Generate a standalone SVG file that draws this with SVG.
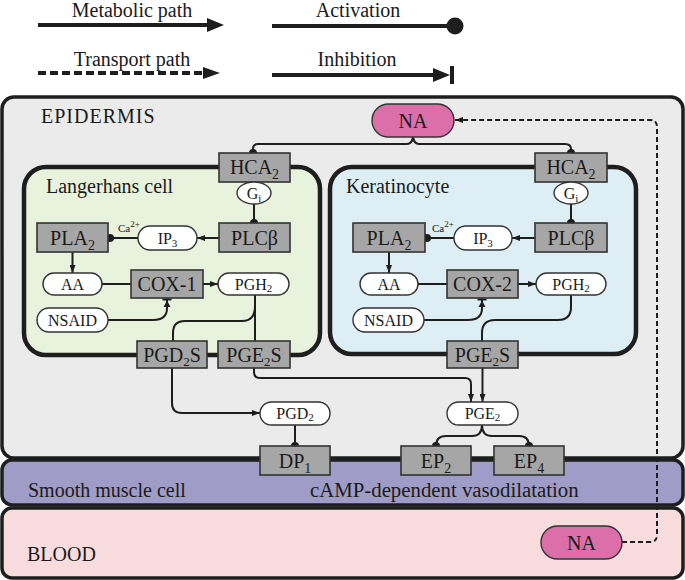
<svg xmlns="http://www.w3.org/2000/svg" width="685" height="580" viewBox="0 0 685 580" font-family="'Liberation Serif', 'DejaVu Serif', serif">
<style>
text{font-family:'Liberation Serif','DejaVu Serif',serif;fill:#1a1a1a}
.lbl{font-size:20px;text-anchor:middle}
.sm{font-size:16px;text-anchor:middle}
.ttl{font-size:20px}
.box{fill:#a6a6a6;stroke:#333;stroke-width:1.6}
.pill{fill:#fff;stroke:#333;stroke-width:1.4}
.na{fill:#dc6fa9;stroke:#333;stroke-width:1.4}
.con{fill:none;stroke:#1e1e1e;stroke-width:2}
.layer{stroke:#1e1e1e;stroke-width:3.5}
.cell{stroke:#1e1e1e;stroke-width:4.5}
</style>
<defs>
<marker id="arr" viewBox="0 0 8 6" refX="8" refY="3" markerWidth="8" markerHeight="6" markerUnits="userSpaceOnUse" orient="auto"><path d="M0,0 L8,3 L0,6 z" fill="#1e1e1e"/></marker>
<marker id="dot" viewBox="-4 -4 8 8" refX="0" refY="0" markerWidth="8" markerHeight="8" markerUnits="userSpaceOnUse" orient="auto"><circle r="4" fill="#1e1e1e"/></marker>
<marker id="inh" viewBox="0 0 10 10" refX="9.5" refY="5" markerWidth="10" markerHeight="10" markerUnits="userSpaceOnUse" orient="auto"><path d="M1,1.5 L7.5,5 L1,8.5 z" fill="#1e1e1e"/><rect x="7.5" y="0.5" width="2" height="9" fill="#1e1e1e"/></marker>
</defs>

<g id="legend">
<text x="132" y="17" class="lbl">Metabolic path</text>
<line x1="38" y1="25" x2="210" y2="25" stroke="#1e1e1e" stroke-width="4"/>
<polygon points="207,18 224,25 207,32" fill="#1e1e1e"/>
<text x="358" y="17" class="lbl">Activation</text>
<line x1="272" y1="26" x2="450" y2="26" stroke="#1e1e1e" stroke-width="4"/>
<circle cx="455" cy="26" r="8.5" fill="#1e1e1e"/>
<text x="132" y="66" class="lbl">Transport path</text>
<line x1="38" y1="73" x2="205" y2="73" stroke="#1e1e1e" stroke-width="4" stroke-dasharray="8,4"/>
<polygon points="203,67 220,73 203,79" fill="#1e1e1e"/>
<text x="357" y="66" class="lbl">Inhibition</text>
<line x1="272" y1="75" x2="440" y2="75" stroke="#1e1e1e" stroke-width="4"/>
<polygon points="433,68 450,75 433,82" fill="#1e1e1e"/>
<rect x="450" y="66" width="4" height="18" fill="#1e1e1e"/>
</g>

<g id="layers">
<rect id="epidermis" class="layer" x="2" y="97" width="681" height="361" rx="12" fill="#ebebeb"/>
<rect id="smooth-muscle" class="layer" x="2" y="460" width="681" height="45" rx="10" fill="#a09cc8"/>
<rect id="blood" class="layer" x="2" y="508" width="681" height="70" rx="10" fill="#f9dcdd"/>
<text x="41" y="123" class="ttl" letter-spacing="1">EPIDERMIS</text>
<text x="28" y="497" class="ttl">Smooth muscle cell</text>
<text x="310" y="497" style="font-size:20.8px">cAMP-dependent vasodilatation</text>
<text x="27" y="561" class="ttl">BLOOD</text>
</g>

<g id="cells">
<rect id="langerhans" class="cell" x="24" y="167" width="296" height="188" rx="22" fill="#e8f2dc"/>
<text x="46" y="193" class="ttl">Langerhans cell</text>
<rect id="keratinocyte" class="cell" x="330" y="167" width="306" height="187" rx="22" fill="#ddeef5"/>
<text x="346" y="193" class="ttl">Keratinocyte</text>
</g>

<g id="connectors">
<path class="con" d="M253,153 V149 Q253,144 258,144 H407 Q412,144 413,137 Q414,144 419,144 H565 Q571,144 571,149 V153" marker-start="url(#dot)" marker-end="url(#dot)"/>
<path class="con" d="M254,204 V223" marker-end="url(#dot)"/>
<path class="con" d="M571,204 V223" marker-end="url(#dot)"/>
<path class="con" d="M219,238 H197" marker-end="url(#arr)"/>
<path class="con" d="M535,238 H512" marker-end="url(#arr)"/>
<path class="con" d="M138,238 H110" marker-end="url(#dot)"/>
<path class="con" d="M454,238 H427" marker-end="url(#dot)"/>
<path class="con" d="M72.5,252 V273" marker-end="url(#arr)"/>
<path class="con" d="M389,252 V273" marker-end="url(#arr)"/>
<path class="con" d="M102,284 H131"/>
<path class="con" d="M418,284 H447"/>
<path class="con" d="M203,284 H218" marker-end="url(#arr)"/>
<path class="con" d="M518,284 H536" marker-end="url(#arr)"/>
<path class="con" d="M108,320 H153 Q167,320 167,308 V298.5" marker-end="url(#inh)"/>
<path class="con" d="M424,320 H468 Q482,320 482,308 V298.5" marker-end="url(#inh)"/>
<path class="con" d="M255,295 V341"/>
<path class="con" d="M255,306 Q255,321 242,321 H185 Q173,321 173,333 V341"/>
<path class="con" d="M571,295 V307 Q571,320 558,320 H495 Q482,320 482,333 V341"/>
<path class="con" d="M172,368 V403 Q172,413 182,413 H260" marker-end="url(#arr)"/>
<path class="con" d="M254,368 V372 Q254,378 260,378 H465 Q471,378 471,384 V402" marker-end="url(#arr)"/>
<path class="con" d="M482.5,368 V402" marker-end="url(#arr)"/>
<path class="con" d="M295,425 V446" marker-end="url(#dot)"/>
<path class="con" d="M482,425 Q482,436 472,436 H446 Q436,436 436,446" marker-end="url(#dot)"/>
<path class="con" d="M482,425 Q482,436 492,436 H519 Q529,436 529,446" marker-end="url(#dot)"/>
<path class="con" d="M622,542 H650 Q657,542 657,535 V127 Q657,120 650,120 H455" stroke-width="1.8" stroke-dasharray="5,3" marker-end="url(#arr)"/>
</g>

<g id="na-top"><rect class="na" x="372" y="104" width="82" height="33" rx="16.5"/><text x="413" y="128" class="lbl">NA</text></g>
<g id="hca2-l"><rect class="box" x="219" y="153" width="71" height="29"/><text x="254.5" y="174" class="lbl">HCA<tspan dy="5" font-size="14">2</tspan></text></g>
<g id="hca2-r"><rect class="box" x="535" y="153" width="72" height="29"/><text x="571" y="174" class="lbl">HCA<tspan dy="5" font-size="14">2</tspan></text></g>
<g id="gi-l"><ellipse class="pill" cx="254" cy="193" rx="17" ry="11"/><text x="254" y="198.5" class="sm">G<tspan dy="3" font-size="11">i</tspan></text></g>
<g id="gi-r"><ellipse class="pill" cx="571" cy="193" rx="17" ry="11"/><text x="571" y="198.5" class="sm">G<tspan dy="3" font-size="11">i</tspan></text></g>
<g id="plcb-l"><rect class="box" x="219" y="223" width="71" height="29"/><text x="254.5" y="244.5" class="lbl">PLCβ</text></g>
<g id="plcb-r"><rect class="box" x="535" y="223" width="72" height="29"/><text x="571" y="244.5" class="lbl">PLCβ</text></g>
<g id="ip3-l"><rect class="pill" x="138" y="226" width="59" height="24" rx="12"/><text x="167.5" y="243.5" class="sm">IP<tspan dy="3" font-size="11">3</tspan></text></g>
<g id="ip3-r"><rect class="pill" x="454" y="226" width="58" height="24" rx="12"/><text x="483" y="243.5" class="sm">IP<tspan dy="3" font-size="11">3</tspan></text></g>
<text x="118" y="232" font-size="11">Ca<tspan dy="-5" font-size="9">2+</tspan></text>
<text x="432" y="232" font-size="11">Ca<tspan dy="-5" font-size="9">2+</tspan></text>
<g id="pla2-l"><rect class="box" x="37" y="223" width="71" height="29"/><text x="72.5" y="244.5" class="lbl">PLA<tspan dy="5" font-size="14">2</tspan></text></g>
<g id="pla2-r"><rect class="box" x="353" y="223" width="72" height="29"/><text x="389" y="244.5" class="lbl">PLA<tspan dy="5" font-size="14">2</tspan></text></g>
<g id="aa-l"><rect class="pill" x="43" y="273" width="59" height="22" rx="11"/><text x="72.5" y="289.5" class="sm">AA</text></g>
<g id="aa-r"><rect class="pill" x="360" y="273" width="58" height="22" rx="11"/><text x="389" y="289.5" class="sm">AA</text></g>
<g id="cox1"><rect class="box" x="131" y="270" width="72" height="28"/><text x="167" y="291" class="lbl">COX-1</text></g>
<g id="cox2"><rect class="box" x="447" y="270" width="71" height="28"/><text x="482.5" y="291" class="lbl">COX-2</text></g>
<g id="pgh2-l"><rect class="pill" x="218" y="273" width="71" height="22" rx="11"/><text x="253.5" y="289.5" class="sm">PGH<tspan dy="2" font-size="11">2</tspan></text></g>
<g id="pgh2-r"><rect class="pill" x="536" y="273" width="70" height="22" rx="11"/><text x="571" y="289.5" class="sm">PGH<tspan dy="2" font-size="11">2</tspan></text></g>
<g id="nsaid-l"><rect class="pill" x="37" y="308" width="71" height="24" rx="12"/><text x="72.5" y="326" class="sm">NSAID</text></g>
<g id="nsaid-r"><rect class="pill" x="353" y="308" width="71" height="24" rx="12"/><text x="388.5" y="326" class="sm">NSAID</text></g>
<g id="pgd2s"><rect class="box" x="137" y="341" width="70" height="27"/><text x="172" y="361.5" class="lbl">PGD<tspan dy="4" font-size="13">2</tspan><tspan dy="-4">S</tspan></text></g>
<g id="pge2s-l"><rect class="box" x="218" y="341" width="72" height="27"/><text x="254" y="361.5" class="lbl">PGE<tspan dy="4" font-size="13">2</tspan><tspan dy="-4">S</tspan></text></g>
<g id="pge2s-r"><rect class="box" x="447" y="341" width="71" height="27"/><text x="482.5" y="361.5" class="lbl">PGE<tspan dy="4" font-size="13">2</tspan><tspan dy="-4">S</tspan></text></g>
<g id="pgd2"><rect class="pill" x="260" y="402" width="70" height="23" rx="11.5"/><text x="295" y="419" class="sm">PGD<tspan dy="2" font-size="11">2</tspan></text></g>
<g id="pge2"><rect class="pill" x="447" y="402" width="71" height="23" rx="11.5"/><text x="482.5" y="419" class="sm">PGE<tspan dy="2" font-size="11">2</tspan></text></g>
<g id="dp1"><rect class="box" x="260" y="446" width="70" height="29"/><text x="295" y="467.5" class="lbl">DP<tspan dy="5" font-size="14">1</tspan></text></g>
<g id="ep2"><rect class="box" x="401" y="446" width="70" height="29"/><text x="436" y="467.5" class="lbl">EP<tspan dy="5" font-size="14">2</tspan></text></g>
<g id="ep4"><rect class="box" x="494" y="446" width="70" height="29"/><text x="529" y="467.5" class="lbl">EP<tspan dy="5" font-size="14">4</tspan></text></g>
<g id="na-bottom"><rect class="na" x="541" y="526" width="81" height="33" rx="16.5"/><text x="581.5" y="549.5" class="lbl">NA</text></g>
</svg>
